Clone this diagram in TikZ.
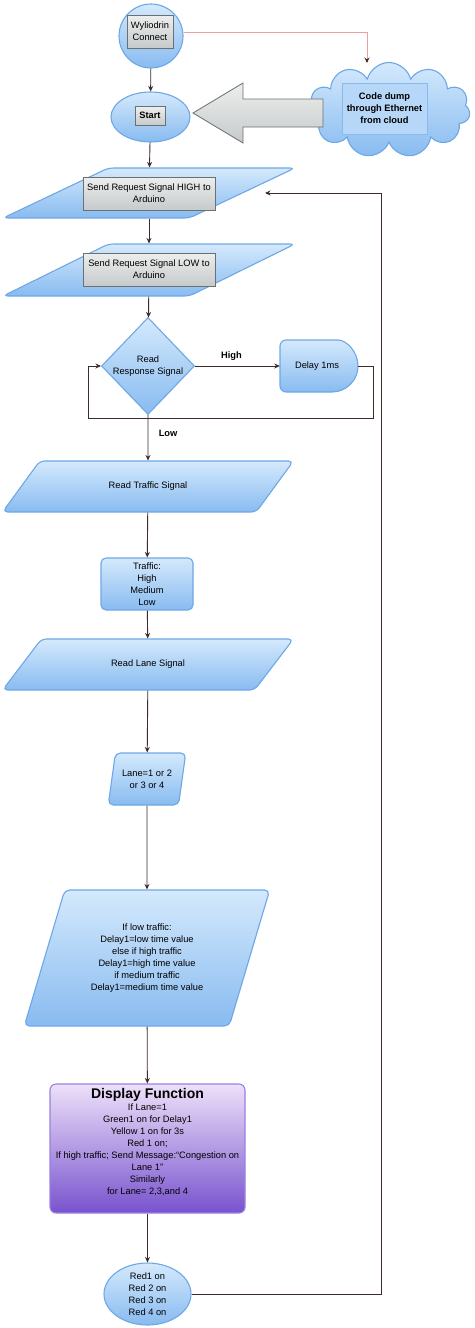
\documentclass[tikz,border=0pt]{standalone}
\usepackage{fontspec}
\setmainfont{Liberation Sans}
\usetikzlibrary{shapes.geometric,shapes.symbols,arrows.meta}

\definecolor{bluetop}{HTML}{D4E9FC}
\definecolor{bluebot}{HTML}{88BBF0}
\definecolor{blueedge}{HTML}{6EA7E6}
\definecolor{graytop}{HTML}{EDEEEE}
\definecolor{graybot}{HTML}{C6CACA}
\definecolor{grayedge}{HTML}{6B7070}
\definecolor{purptop}{HTML}{EDE0F9}
\definecolor{purpbot}{HTML}{7853CE}
\definecolor{purpedge}{HTML}{9A80E2}
\definecolor{linecol}{HTML}{3D2A2A}
\definecolor{pinkline}{HTML}{E8A2A2}

\tikzset{
  blueshape/.style={draw=blueedge, line width=1.1pt, top color=bluetop, bottom color=bluebot,
    align=center, font=\fontsize{9.3}{12}\selectfont, inner sep=1pt},
  inout/.style={blueshape, trapezium, trapezium stretches=true, rounded corners=5pt},
  graybox/.style={draw=grayedge, line width=0.6pt, top color=graytop, bottom color=graybot,
    align=center, font=\fontsize{9.3}{12}\selectfont, inner sep=0pt},
  flow/.style={-{Stealth[length=5.5pt,width=5pt]}, draw=linecol, line width=0.9pt},
}

\begin{document}
\begin{tikzpicture}[x=1pt,y=-1pt]
\useasboundingbox (0,0) rectangle (474,1328);

% top part: connect, cloud and start
\node[blueshape, circle, minimum size=64] (wc) at (151,36) {};
\node[graybox, minimum width=46, minimum height=33] (wctxt) at (150,31.5) {Wyliodrin\\Connect};

\node[blueshape, cloud, cloud puffs=11, aspect=1.7, minimum width=162, minimum height=95] (cloud) at (389,110) {};
\node[draw=blueedge!80, fill=bluetop!60!bluebot, line width=0.6pt, minimum width=85, minimum height=51,
  align=center, font=\fontsize{9.3}{12}\selectfont\bfseries, inner sep=0pt] (dump) at (384.5,108.5)
  {Code dump\\through Ethernet\\from cloud};

\node[blueshape, ellipse, minimum width=79, minimum height=50] (start) at (150.5,117) {};
\node[graybox, minimum width=30, minimum height=19, font=\fontsize{9.3}{12}\selectfont\bfseries] (starttxt) at (150,115.5) {Start};

% big push arrow from the cloud
\draw[draw=grayedge, line width=0.8pt, top color=graytop, bottom color=graybot]
  (193,113) -- (243,83) -- (243,99) -- (323,99) -- (323,127) -- (243,127) -- (243,143) -- cycle;

% request signals
\node[inout, trapezium left angle=37.6, trapezium right angle=142.4, minimum width=292, minimum height=50] (send1) at (149,193) {};
\node[graybox, minimum width=132, minimum height=33] (send1txt) at (149,193.5) {Send Request Signal HIGH to\\Arduino};
\coordinate (send1in) at (265,193);

\node[inout, trapezium left angle=37.6, trapezium right angle=142.4, minimum width=292, minimum height=52] (send2) at (149,270) {};
\node[graybox, minimum width=132, minimum height=33] (send2txt) at (149,269.5) {Send Request Signal LOW to\\Arduino};

% response loop
\node[blueshape, diamond, minimum width=93, minimum height=97] (rrs) at (148,366) {};
\node[font=\fontsize{9.3}{12}\selectfont, align=center, inner sep=0pt] (rrstxt) at (148,366) {Read\\Response Signal};

\node[minimum width=78, minimum height=52, inner sep=0pt] (delay) at (319,366) {};
\draw[blueshape] (332,392) [rounded corners=6pt] -- (280,392) -- (280,340) -- (332,340) [sharp corners] arc(-90:90:26) -- cycle;
\node[font=\fontsize{9.3}{12}\selectfont, inner sep=0pt] (delaytxt) at (317,366) {Delay 1ms};

\coordinate (loopR) at (373,418);
\coordinate (loopL) at (88,418);

% traffic and lanes
\node[inout, trapezium left angle=37.6, trapezium right angle=142.4, minimum width=291, minimum height=51] (traffic) at (148,486.5) {Read Traffic Signal};
\node[blueshape, rounded corners=5pt, minimum width=92, minimum height=52] (level) at (147,584) {Traffic:\\High\\Medium\\Low};
\node[inout, trapezium left angle=37.6, trapezium right angle=142.4, minimum width=291, minimum height=51] (lane) at (148,664.5) {Read Lane Signal};
\node[inout, trapezium left angle=74, trapezium right angle=106, minimum width=78, minimum height=52] (lanenum) at (147,779) {Lane=1 or 2\\or 3 or 4};
\node[inout, trapezium left angle=68.3, trapezium right angle=111.7, minimum width=246, minimum height=136] (delays) at (147,958)
  {If low traffic:\\Delay1=low time value\\else if high traffic\\Delay1=high time value\\if medium traffic\\Delay1=medium time value};

% display and reds
\node[draw=purpedge, line width=1.1pt, top color=purptop, bottom color=purpbot, rounded corners=6pt,
  minimum width=195, minimum height=129, align=center, inner sep=0pt, font=\fontsize{9.3}{12}\selectfont] (display) at (147.5,1148.5)
  {{\fontsize{14}{15}\selectfont\bfseries Display Function}\\If Lane=1\\Green1 on for Delay1\\Yellow 1 on for 3s\\Red 1 on;\\
   If high traffic; Send Message:“Congestion on\\Lane 1”\\Similarly\\for Lane= 2,3,and 4\\[3pt]};
\node[blueshape, ellipse, minimum width=87, minimum height=62, inner sep=0pt] (reds) at (147.5,1294) {Red1 on\\Red 2 on\\Red 3 on\\Red 4 on};

\coordinate (fb) at (381,193);
\coordinate (cloudin) at (367,63);

% connectors
\draw[flow, draw=pinkline, -{Stealth[length=5.5pt,width=5pt,color=linecol]}] (wc.east |- 0,32) -| (cloudin);
\draw[flow] (wc) -- (start);
\draw[flow] (start) -- (send1);
\draw[flow] (send1) -- (send2);
\draw[flow] (send2) -- (rrs);
\draw[flow] (rrs) -- node[above, font=\fontsize{9.3}{10}\selectfont\bfseries, xshift=-6pt, yshift=2pt] {High} (delay);
\draw[flow] (delay.east) -| (loopR) -- (loopL) |- (rrs.west);
\draw[flow] (rrs) -- node[right, font=\fontsize{9.3}{10}\selectfont\bfseries, pos=0.4, xshift=7pt] {Low} (traffic);
\draw[flow] (traffic) -- (level);
\draw[flow] (level) -- (lane);
\draw[flow] (lane) -- (lanenum);
\draw[flow] (lanenum) -- (delays);
\draw[flow] (delays) -- (display);
\draw[flow] (display) -- (reds);
\draw[flow] (reds.east) -| (fb) -- (send1in);

\end{tikzpicture}
\end{document}
